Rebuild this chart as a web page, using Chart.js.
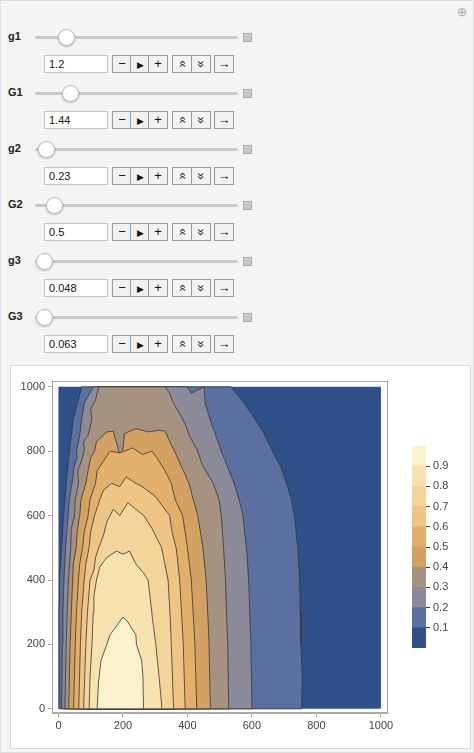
<!DOCTYPE html>
<html><head><meta charset="utf-8">
<script src="https://cdn.jsdelivr.net/npm/chart.js@4.4.1/dist/chart.umd.min.js"></script>
<style>
body{margin:0;width:474px;height:753px;background:#fff;font-family:"Liberation Sans",Arial,sans-serif;position:relative;overflow:hidden}
#panel{position:absolute;left:0;top:0;width:472px;height:751px;background:#f4f4f4;border:1px solid #ddd}
#plotbox{position:absolute;left:10px;top:365px;width:459px;height:382px;background:#fff;border:1px solid #d6d6d6}
.lab{position:absolute;left:8px;font-size:11px;font-weight:bold;color:#222}
.track{position:absolute;left:35px;width:203px;height:3px;background:#c9c9c9;border-radius:2px}
.thumb{position:absolute;width:15px;height:15px;border-radius:50%;background:#fff;border:1px solid #bbb;box-shadow:0 1px 2px rgba(0,0,0,.25)}
.end{position:absolute;left:243px;width:7px;height:7px;background:#c8c8c8;border:1px solid #aaa}
.inp{position:absolute;left:44px;width:58px;height:16px;background:#fff;border:1px solid #c4c4c4;font-size:11px;line-height:16px;padding-left:4px;color:#111}
.btn{position:absolute;height:16px;background:#f2f2f2;border:1px solid #9a9a9a;font-size:13px;line-height:16px;text-align:center;color:#111;overflow:hidden}
.btn span{display:inline-block}
</style></head><body>
<div id="panel"></div>
<div style="position:absolute;left:457px;top:5px;font-size:12px;color:#aaa">⊕</div>
<div id="controls"></div>
<div id="plotbox"></div>
<div style="position:absolute;left:0;top:370px;width:474px;height:380px"><canvas id="c"></canvas></div>
<div style="position:absolute;left:400px;top:436px;width:74px;height:230px"><canvas id="cb"></canvas></div>
<script>
// ---- controls ----
const paramNames = ["g1","G1","g2","G2","g3","G3"];
const paramValues = ["1.2","1.44","0.23","0.5","0.048","0.063"];
const thumbX = [66,70,46,54,44,44];
// ---- contour data: [y, x] boundary points for each level ----
const levels = [0.1,0.2,0.3,0.4,0.5,0.6,0.7,0.8,0.9];
const lv1Left  = [[0,2],[200,2],[300,1],[360,4],[400,3],[500,10],[600,16],[700,24],[800,34],[900,46],[1000,72]];
const lv1Right = [[0,754],[100,756],[200,752],[300,750],[400,748],[500,742],[600,732],[650,722],[700,708],[750,690],[800,664],[850,640],[900,610],[950,575],[1000,535]];
const lv2Left  = [[0,10],[200,12],[300,14],[400,17],[500,22],[600,30],[650,34],[700,42],[750,48],[780,58],[800,56],[850,66],[900,72],[950,80],[1000,108]];
const lv2Right = [[0,600],[200,597],[276,594],[400,590],[500,583],[600,572],[650,560],[700,545],[800,505],[900,470],[950,455],[1000,452],[980,412],[1000,400]];
const lv3Left  = [[0,20],[200,24],[300,27],[400,31],[500,38],[560,40],[600,50],[650,52],[700,62],[740,60],[760,68],[800,80],[830,78],[850,92],[900,104],[930,100],[960,115],[1000,125]];
const lv3Right = [[1000,330],[980,345],[960,352],[940,362],[900,385],[880,395],[850,405],[800,432],[760,445],[700,480],[650,498],[600,505],[500,512],[400,518],[276,522],[200,525],[0,528]];
const lv4Left  = [[0,32],[200,36],[300,40],[400,44],[450,46],[500,55],[550,58],[600,66],[650,70],[700,85],[740,92],[780,100],[800,112],[830,118],[860,150],[862,170],[790,190],[792,198],[855,205],[870,240],[860,280],[865,310]];
const lv4Right = [[862,331],[830,345],[800,360],[760,378],[700,405],[650,418],[600,432],[500,448],[400,458],[276,464],[200,467],[0,471]];
const lv5Left  = [[0,47],[200,52],[300,56],[400,62],[450,66],[500,75],[550,80],[600,92],[650,98],[700,115],[740,120],[770,140],[800,160],[795,190],[810,230],[790,260],[800,290]];
const lv5Right = [[780,305],[740,330],[700,350],[650,362],[600,385],[500,400],[400,412],[276,419],[200,423],[0,429]];
const lv6Left  = [[0,63],[200,68],[300,72],[400,80],[450,85],[500,95],[550,100],[600,112],[640,125],[680,140],[700,165],[690,190],[720,210],[700,240]];
const lv6Right = [[690,260],[660,300],[620,330],[600,345],[550,352],[500,365],[400,376],[276,383],[200,387],[0,393]];
const lv7Left  = [[0,78],[200,85],[300,90],[400,98],[430,110],[470,115],[500,125],[540,140],[580,150],[620,170],[600,190],[640,215],[620,240]];
const lv7Right = [[600,265],[560,290],[520,310],[500,320],[400,340],[276,347],[200,350],[0,357]];
const lv8Left  = [[0,95],[100,98],[200,104],[300,108],[350,110],[400,118],[440,128],[470,150],[490,180],[480,200]];
const lv8Right = [[490,220],[450,240],[420,265],[400,278],[340,285],[276,292],[200,302],[100,312],[0,321]];
const lv9Left  = [[0,120],[80,124],[150,132],[200,150],[230,160],[250,175],[285,200]];
const lv9Right = [[270,215],[230,240],[200,242],[150,258],[100,262],[0,264]];
const fillColors = ["#2f5089","#5b6fa0","#8a8a98","#a69281","#d3a263","#e2b06a","#eec584","#f3d49a","#f8e2b0","#fcf2cc"];

const ctrl = document.getElementById('controls');
let html='';
paramNames.forEach((n,i)=>{
  const ys = 37 + i*56, yi = 55 + i*56;
  html += `<div class="lab" style="top:${ys-7}px">${n}</div>`;
  html += `<div class="track" style="top:${ys-1}px"></div>`;
  html += `<div class="thumb" style="left:${thumbX[i]-8}px;top:${ys-8}px"></div>`;
  html += `<div class="end" style="top:${ys-4}px"></div>`;
  html += `<div class="inp" style="top:${yi}px">${paramValues[i]}</div>`;
  const b=[[112,"−",""],[130,"▶","font-size:9px"],[148,"+",""],[172,"»","transform:rotate(-90deg)"],[191,"»","transform:rotate(90deg)"],[214,"→",""]];
  b.forEach(([x,t,st])=>{
    html += `<div class="btn" style="left:${x}px;top:${yi}px;width:18px"><span style="${st}">${t}</span></div>`;
  });
});
ctrl.innerHTML = html;

const allLeft  = [lv1Left,lv2Left,lv3Left,lv4Left,lv5Left,lv6Left,lv7Left,lv8Left,lv9Left];
const allRight = [lv1Right,lv2Right,lv3Right,lv4Right,lv5Right,lv6Right,lv7Right,lv8Right,lv9Right];
const datasets = [{
  data:[{x:0,y:0},{x:0,y:1000},{x:1000,y:1000},{x:1000,y:0},{x:0,y:0}],
  showLine:true, fill:'shape', backgroundColor:fillColors[0], borderWidth:0, pointRadius:0
}];
levels.forEach((lv,i)=>{
  const pts = allLeft[i].map(([y,x])=>({x,y}));
  const r = allRight[i].slice();
  if (r[0][0] < r[r.length-1][0]) r.reverse();
  r.forEach(([y,x])=>pts.push({x,y}));
  pts.push(pts[0]);
  datasets.push({data:pts, showLine:true, fill:'shape', backgroundColor:fillColors[i+1],
    borderColor:'#3a3530', borderWidth:0.8, pointRadius:0, tension:0});
});
// filler paints last dataset first, so reverse: highest level listed first
datasets.reverse();

const tickFont = {family:"Liberation Sans", size:11};
const plainTick = v=>String(v);
new Chart(document.getElementById('c'), {
  type:'scatter',
  data:{datasets},
  options:{
    responsive:true, maintainAspectRatio:false, animation:false,
    plugins:{legend:{display:false}, tooltip:{enabled:false}},
    layout:{padding:{top:11,right:86,left:0,bottom:0}},
    scales:{
      x:{type:'linear', min:-20, max:1022, afterFit:s=>{s.height=37},
        afterBuildTicks:s=>{s.ticks=[0,200,400,600,800,1000].map(v=>({value:v}))},
        ticks:{font:tickFont,color:'#444',padding:2,callback:plainTick},
        grid:{drawOnChartArea:false, tickLength:4, color:'#aaa'}, border:{color:'#aaa'}},
      y:{type:'linear', min:-13, max:1018, afterFit:s=>{s.width=52},
        afterBuildTicks:s=>{s.ticks=[0,200,400,600,800,1000].map(v=>({value:v}))},
        ticks:{font:tickFont,color:'#444',padding:3,callback:plainTick},
        grid:{drawOnChartArea:false, tickLength:4, color:'#aaa'}, border:{color:'#aaa'}}
    }
  },
  plugins:[{id:'frame',afterDraw(ch){const a=ch.chartArea,c=ch.ctx;c.save();c.strokeStyle='#aaa';c.lineWidth=1;c.strokeRect(a.left+0.5,a.top+0.5,a.width-1,a.height-1);c.restore();}}]
});

// colorbar
const cbSegments = [0,1,2,3,4,5,6,7,8,9];
new Chart(document.getElementById('cb'), {
  type:'bar',
  data:{labels:[''], datasets: cbSegments.map(i=>({data:[0.1], backgroundColor:fillColors[i], borderWidth:0, barPercentage:1, categoryPercentage:1}))},
  options:{
    responsive:true, maintainAspectRatio:false, animation:false,
    plugins:{legend:{display:false}, tooltip:{enabled:false}},
    layout:{padding:{top:10,left:12,bottom:18,right:0}},
    scales:{
      x:{stacked:true, display:false},
      y:{stacked:true, position:'right', min:0, max:1.0, afterFit:s=>{s.width=48},
        afterBuildTicks:s=>{s.ticks=levels.map(v=>({value:v}))},
        ticks:{font:tickFont,color:'#444',padding:3, callback:v=>v.toFixed(1)},
        grid:{drawOnChartArea:true, tickLength:4, color:'#444'}, border:{display:false}}
    }
  }
});
</script>
</body></html>
